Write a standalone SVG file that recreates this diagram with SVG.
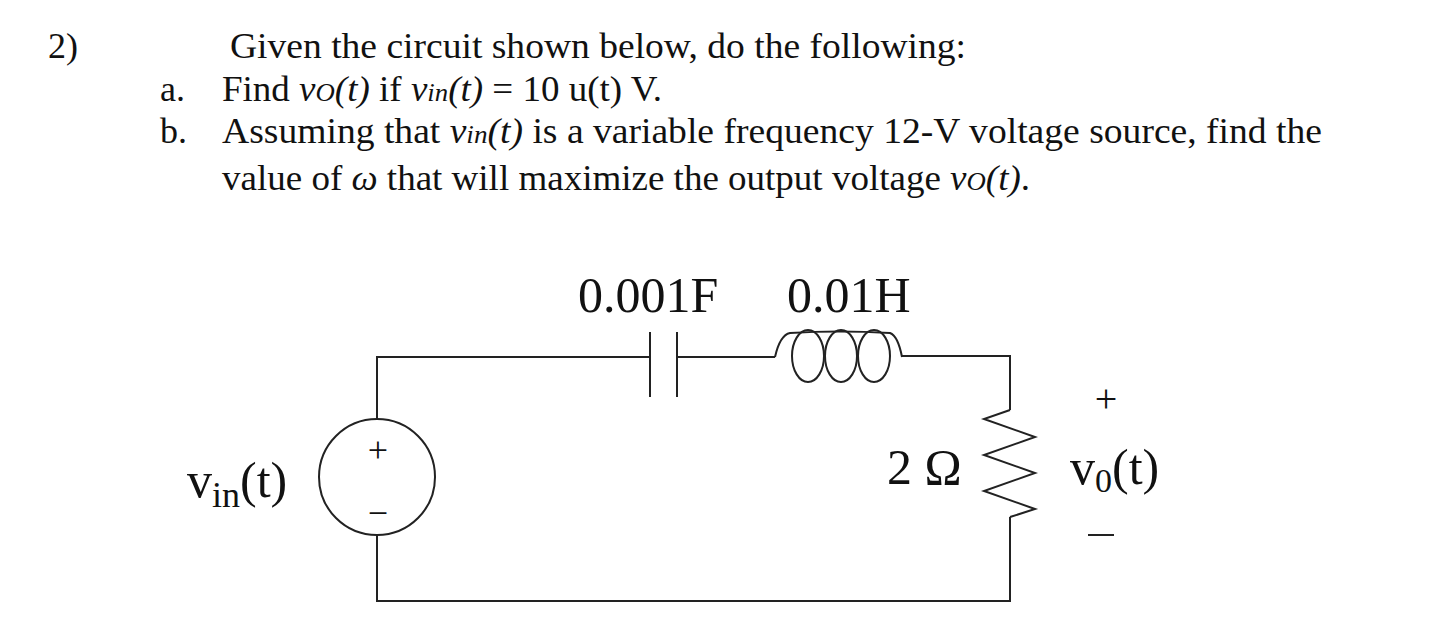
<svg xmlns="http://www.w3.org/2000/svg" width="1437" height="642" viewBox="0 0 1437 642">
<style>
text{font-family:"Liberation Serif","Times New Roman",serif;fill:#111}
.t{font-size:36px}
.l{font-size:50px}
.w{fill:none;stroke:#222;stroke-width:2}
</style>
<rect width="1437" height="642" fill="#fff"/>
<g id="text">
<text class="t" x="48" y="58">2)</text>
<text class="t" x="230" y="58" textLength="736" lengthAdjust="spacingAndGlyphs">Given the circuit shown below, do the following:</text>
<text class="t" x="160" y="101">a.</text>
<text class="t" x="222" y="101" textLength="440" lengthAdjust="spacingAndGlyphs">Find <tspan font-style="italic">v</tspan><tspan font-style="italic" font-size="26">O</tspan><tspan font-style="italic">(t)</tspan> if <tspan font-style="italic">v</tspan><tspan font-style="italic" font-size="26">in</tspan><tspan font-style="italic">(t)</tspan> = 10 u(t) V.</text>
<text class="t" x="160" y="143">b.</text>
<text class="t" x="222" y="143" textLength="1100" lengthAdjust="spacingAndGlyphs">Assuming that <tspan font-style="italic">v</tspan><tspan font-style="italic" font-size="26">in</tspan><tspan font-style="italic">(t)</tspan> is a variable frequency 12-V voltage source, find the</text>
<text class="t" x="222" y="190" textLength="808" lengthAdjust="spacingAndGlyphs">value of <tspan font-style="italic">ω</tspan> that will maximize the output voltage <tspan font-style="italic">v</tspan><tspan font-style="italic" font-size="26">O</tspan><tspan font-style="italic">(t)</tspan>.</text>
</g>
<g id="connectors">
<path class="w" d="M650 357H377V419M377 535V601H1010V517M1010 410V356H902M775 357H677"/>
</g>
<g id="source">
<circle class="w" cx="377" cy="477" r="58"/>
<text x="378" y="462" font-size="36" text-anchor="middle">+</text>
<text x="378" y="525" font-size="36" text-anchor="middle">−</text>
<text class="l" x="187" y="497">v<tspan font-size="36" dy="10">in</tspan><tspan dy="-10">(t)</tspan></text>
</g>
<g id="capacitor">
<path class="w" d="M650 332V397M677 332V397"/>
<text class="l" x="578" y="312">0.001F</text>
</g>
<g id="inductor">
<path class="w" d="M775 357Q780 335 790 333Q838 330 890 333Q898 336 902 357"/>
<ellipse class="w" cx="808" cy="356" rx="16" ry="26"/>
<ellipse class="w" cx="841" cy="356" rx="16" ry="26"/>
<ellipse class="w" cx="874" cy="356" rx="16" ry="26"/>
<text class="l" x="787" y="312">0.01H</text>
</g>
<g id="resistor">
<path class="w" d="M1010 410L984 419L1035 437L984 455L1035 473L984 491L1035 509L1010 517"/>
<text class="l" x="887" y="484">2 Ω</text>
</g>
<g id="vout">
<text x="1106" y="412" font-size="40" text-anchor="middle">+</text>
<text class="l" x="1070" y="484">v<tspan font-size="34" dy="8">0</tspan><tspan dy="-8">(t)</tspan></text>
<path class="w" d="M1088 535H1114"/>
</g>
</svg>
